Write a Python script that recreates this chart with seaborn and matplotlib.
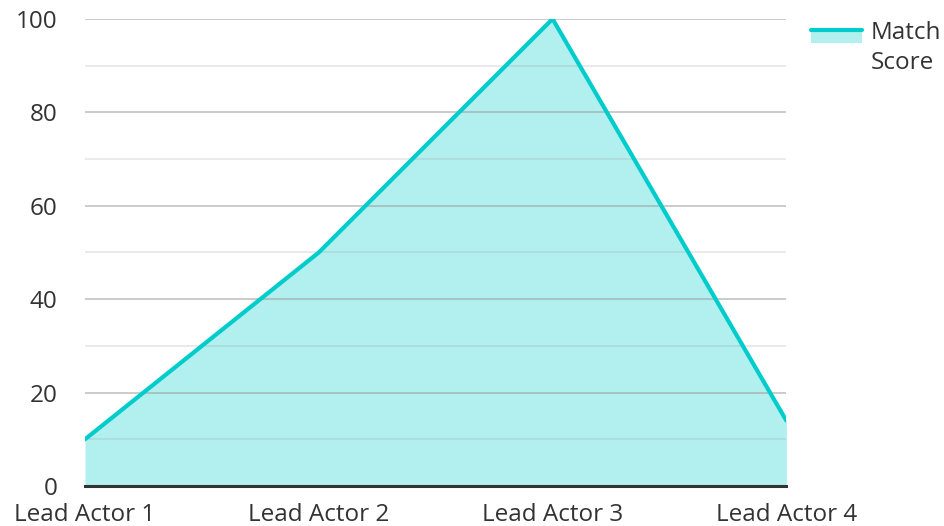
import pandas as pd
import matplotlib.pyplot as plt
import seaborn as sns
from matplotlib.legend_handler import HandlerBase
from matplotlib.patches import Rectangle
from matplotlib.lines import Line2D
from matplotlib.ticker import MultipleLocator

# Data
actors = ["Lead Actor 1", "Lead Actor 2", "Lead Actor 3", "Lead Actor 4"]
match_score = [10, 50, 100, 14]

LINE = "#00cccc"
FILL = "#b2efef"


class AreaHandler(HandlerBase):
    # legend key: filled box with the line along its top edge, next to the first text line
    def create_artists(self, legend, orig_handle, xdescent, ydescent,
                       width, height, fontsize, trans):
        top = -ydescent + height * 1.55
        box = Rectangle((-xdescent, top - height * 0.72), width, height * 0.72,
                        facecolor=FILL, edgecolor="none", transform=trans)
        line = Line2D([-xdescent, -xdescent + width], [top, top],
                      color=LINE, lw=3, transform=trans)
        return [box, line]


df = pd.DataFrame({"pos": range(len(actors)), "Actor": actors, "Match Score": match_score})

sns.set_style("white")
plt.rcParams["font.family"] = ["Open Sans", "DejaVu Sans"]

fig = plt.figure(figsize=(9.44, 5.26), dpi=100)
ax = fig.add_axes([0.090, 0.076, 0.743, 0.888])

ax.fill_between(df["pos"], df["Match Score"], 0, color=FILL, lw=0, zorder=2)
sns.lineplot(data=df, x="pos", y="Match Score", color=LINE, lw=3, ax=ax, zorder=3)

ax.set_xlim(0, 3)
ax.set_ylim(0, 100)
ax.yaxis.set_major_locator(MultipleLocator(20))
ax.yaxis.set_minor_locator(MultipleLocator(10))
ax.set_axisbelow(False)  # grid drawn over the fill, under the line
ax.grid(axis="y", which="major", color="#9a9a9a", alpha=0.55, lw=1.3)
ax.grid(axis="y", which="minor", color="#9a9a9a", alpha=0.22, lw=1.3)

ax.set_xticks(df["pos"])
ax.set_xticklabels(actors)
ax.tick_params(axis="x", length=0, pad=12, labelsize=17.5, colors="#333333")
ax.tick_params(axis="y", which="both", length=0, pad=20, labelsize=17.5, colors="#333333")
ax.set_xlabel("")
ax.set_ylabel("")

for s in ["left", "right", "top"]:
    ax.spines[s].set_visible(False)
ax.spines["bottom"].set_color("#333333")
ax.spines["bottom"].set_linewidth(2.2)
ax.spines["bottom"].set_zorder(4)

leg = ax.legend([Rectangle((0, 0), 1, 1)], ["Match\nScore"], handler_map={Rectangle: AreaHandler()},
                loc="upper left", bbox_to_anchor=(0.854, 0.970), bbox_transform=fig.transFigure,
                frameon=False, fontsize=17.5, handlelength=2.1, handletextpad=0.35,
                labelcolor="#333333", borderaxespad=0, borderpad=0.2)
for t in leg.get_texts():
    t.set_linespacing(1.35)

plt.savefig("out.png", dpi=100)
plt.close()
